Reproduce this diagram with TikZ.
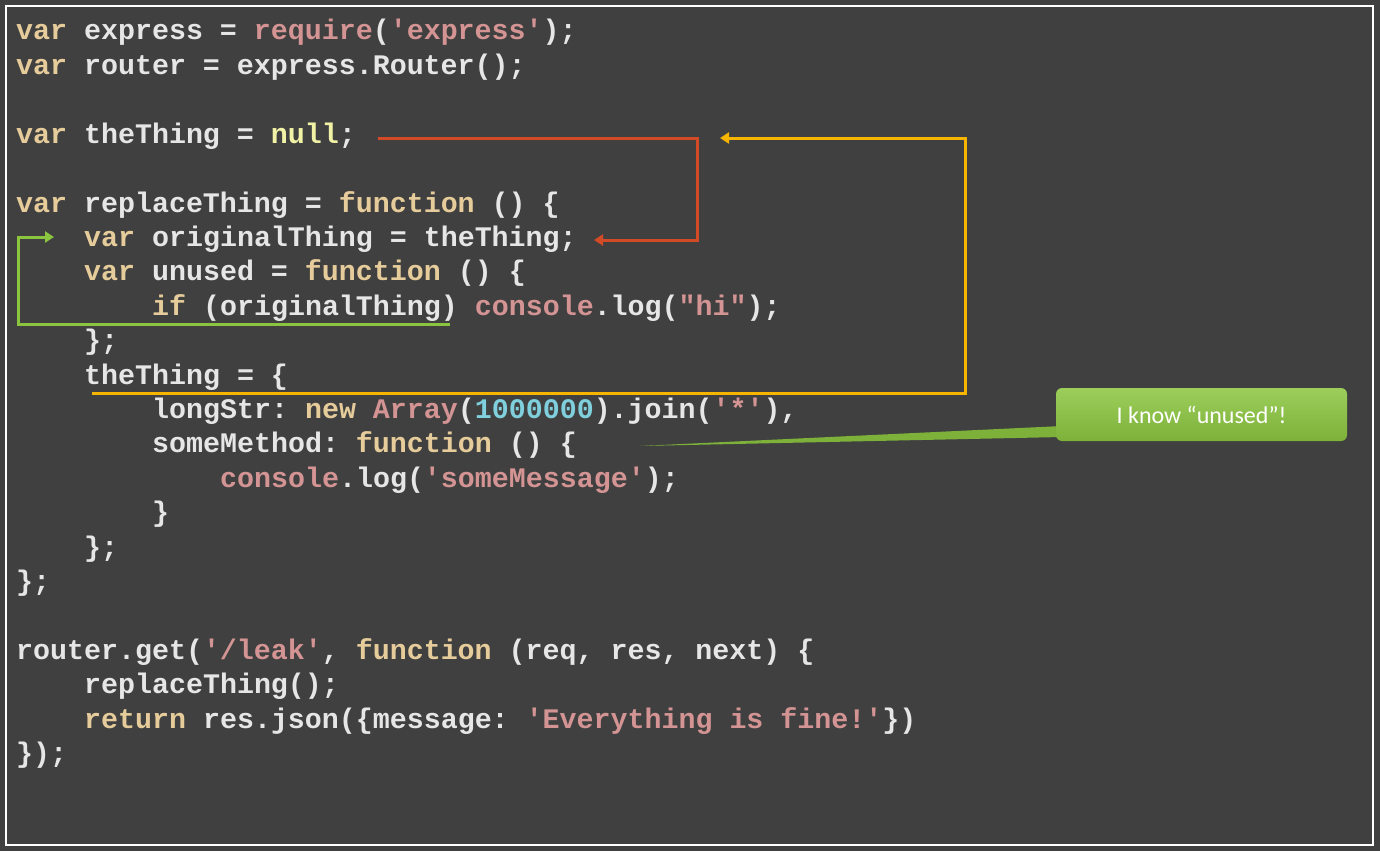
\documentclass[tikz,border=0pt]{standalone}
\usepackage{fontspec}
\setmonofont{Liberation Mono}
\newfontfamily\callfont{Carlito}
\definecolor{bg}{HTML}{404040}
\definecolor{kw}{HTML}{E6CC9A}
\definecolor{st}{HTML}{D49494}
\definecolor{nl}{HTML}{F2F2A6}
\definecolor{nm}{HTML}{7FD0DC}
\definecolor{tx}{HTML}{E6E6E6}
\definecolor{redar}{HTML}{D24A26}
\definecolor{yelar}{HTML}{F7B500}
\definecolor{grnar}{HTML}{8BC53F}
\newcommand{\K}[1]{\textcolor{kw}{#1}}
\newcommand{\Sx}[1]{\textcolor{st}{#1}}
\newcommand{\Nl}[1]{\textcolor{nl}{#1}}
\newcommand{\Nm}[1]{\textcolor{nm}{#1}}
\begin{document}
\begin{tikzpicture}[x=1pt,y=-1pt,
 code/.style={anchor=base west,inner sep=0pt,text=tx,font=\ttfamily\bfseries\fontsize{28.3}{34}\selectfont},
 arr/.style={line width=3pt,-{Triangle[length=9pt,width=11pt]}}]
\usetikzlibrary{arrows.meta}
\fill[bg] (0,0) rectangle (1380,851);
\draw[white,line width=1.5pt] (6,6) rectangle (1373,845);
\newcommand{\Y}[1]{40+34.4*(#1-1)}
\node[code] (l1) at (16,{\Y{1}}) {\K{var} express = \Sx{require}(\Sx{'express'});};
\node[code] (l2) at (16,{\Y{2}}) {\K{var} router = express.Router();};
\node[code] (l4) at (16,{\Y{4}}) {\K{var} theThing = \Nl{null};};
\node[code] (l6) at (16,{\Y{6}}) {\K{var} replaceThing = \K{function} () \{};
\node[code] (l7) at (84,{\Y{7}}) {\K{var} originalThing = theThing;};
\node[code] (l8) at (84,{\Y{8}}) {\K{var} unused = \K{function} () \{};
\node[code] (l9) at (152,{\Y{9}}) {\K{if} (originalThing) \Sx{console}.log(\Sx{"hi"});};
\node[code] (l10) at (84,{\Y{10}}) {\};};
\node[code] (l11) at (84,{\Y{11}}) {theThing = \{};
\node[code] (l12) at (152,{\Y{12}}) {longStr: \K{new} \Sx{Array}(\Nm{1000000}).join(\Sx{'*'}),};
\node[code] (l13) at (152,{\Y{13}}) {someMethod: \K{function} () \{};
\node[code] (l14) at (220,{\Y{14}}) {\Sx{console}.log(\Sx{'someMessage'});};
\node[code] (l15) at (152,{\Y{15}}) {\}};
\node[code] (l16) at (84,{\Y{16}}) {\};};
\node[code] (l17) at (16,{\Y{17}}) {\};};
\node[code] (l19) at (16,{\Y{19}}) {router.get(\Sx{'/leak'}, \K{function} (req, res, next) \{};
\node[code] (l20) at (84,{\Y{20}}) {replaceThing();};
\node[code] (l21) at (84,{\Y{21}}) {\K{return} res.json(\{message: \Sx{'Everything is fine!'}\})};
\node[code] (l22) at (16,{\Y{22}}) {\});};
% arrows
\coordinate (r0) at (378,138); \coordinate (r1) at (594,240);
\draw[arr,redar] (r0) -- (697,138) |- (r1);
\coordinate (y0) at (92,393); \coordinate (y1) at (720,138);
\draw[arr,yelar] (y0) -- (965,393) |- (y1);
\coordinate (g0) at (450,324); \coordinate (g1) at (54,237);
\draw[arr,grnar] (g0) -- (18,324) |- (g1);
% callout
\coordinate (tip) at (640,446);
\fill[grnar!90!black] (1062,426) -- (tip) -- (1062,437) -- cycle;
\node[rounded corners=6pt,top color=grnar!85!white,bottom color=grnar!90!black,minimum width=291pt,minimum height=53pt,text=white,font=\callfont\fontsize{24}{28}\selectfont] (call) at (1201.5,414.5) {I know “unused”!};
\end{tikzpicture}
\end{document}
